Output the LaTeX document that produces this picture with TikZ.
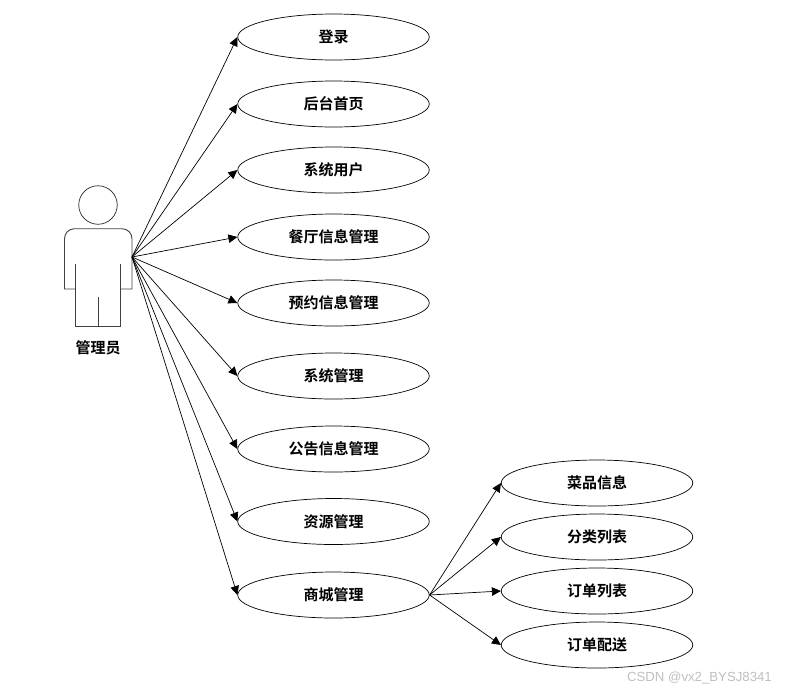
\documentclass[tikz,border=0pt]{standalone}
\usepackage{fontspec}
\setmainfont{Liberation Sans}
\newfontfamily\cjk[BoldFont={Noto Sans CJK SC Bold}]{Noto Sans CJK SC}
\usetikzlibrary{shapes.geometric,arrows.meta}
\tikzset{
  usecase/.style={draw=black,line width=0.7pt,ellipse,minimum width=191.5pt,minimum height=46pt,inner sep=0pt,font=\cjk\bfseries\fontsize{15pt}{15pt}\selectfont},
  assoc/.style={draw=black,line width=0.7pt,-{Triangle[length=9pt,width=8.5pt]}},
  actorline/.style={draw=black!75,line width=0.9pt}
}
\begin{document}
\begin{tikzpicture}[x=1pt,y=-1pt]
\useasboundingbox (0,0) rectangle (786,691);
% actor
\node[draw=black!85,line width=0.7pt,circle,minimum size=38.5pt,inner sep=0pt] (head) at (98,205) {};
\draw[actorline,rounded corners=10pt] (75.7,289) [sharp corners] -- (64.5,289) [rounded corners=10pt] -- (64.5,228.7) -- (132,228.7) [sharp corners] -- (132,289) -- (120.2,289);
\draw[actorline] (75.7,264) -- (75.7,326.8) -- (120.2,326.8) -- (120.2,264);
\draw[actorline] (98,296.7) -- (98,326.8);
\coordinate (hand) at (132,257);
\node[font=\cjk\bfseries\fontsize{15pt}{15pt}\selectfont] (actorlabel) at (98,348) {管理员};
% use cases
\node[usecase] (u1) at (333.5,37) {登录};
\node[usecase] (u2) at (333.5,104) {后台首页};
\node[usecase] (u3) at (333.5,170) {系统用户};
\node[usecase] (u4) at (333.5,237) {餐厅信息管理};
\node[usecase] (u5) at (333.5,303) {预约信息管理};
\node[usecase] (u6) at (333.5,376) {系统管理};
\node[usecase] (u7) at (333.5,449) {公告信息管理};
\node[usecase] (u8) at (333.5,521.5) {资源管理};
\node[usecase] (u9) at (333.5,595) {商城管理};
\node[usecase] (s1) at (597,483) {菜品信息};
\node[usecase] (s2) at (597,537) {分类列表};
\node[usecase] (s3) at (597,591) {订单列表};
\node[usecase] (s4) at (597,645) {订单配送};
\foreach \n in {u1,u2,u3,u4,u5,u6,u7,u8,u9} \draw[assoc] (hand) -- (\n.west);
\foreach \n in {s1,s2,s3,s4} \draw[assoc] (u9.east) -- (\n.west);
\node[text=black!25,font=\fontsize{13.2pt}{13.2pt}\selectfont,anchor=east,inner sep=0pt] (wm) at (772,678) {CSDN @vx2\_BYSJ8341};
\end{tikzpicture}
\end{document}
